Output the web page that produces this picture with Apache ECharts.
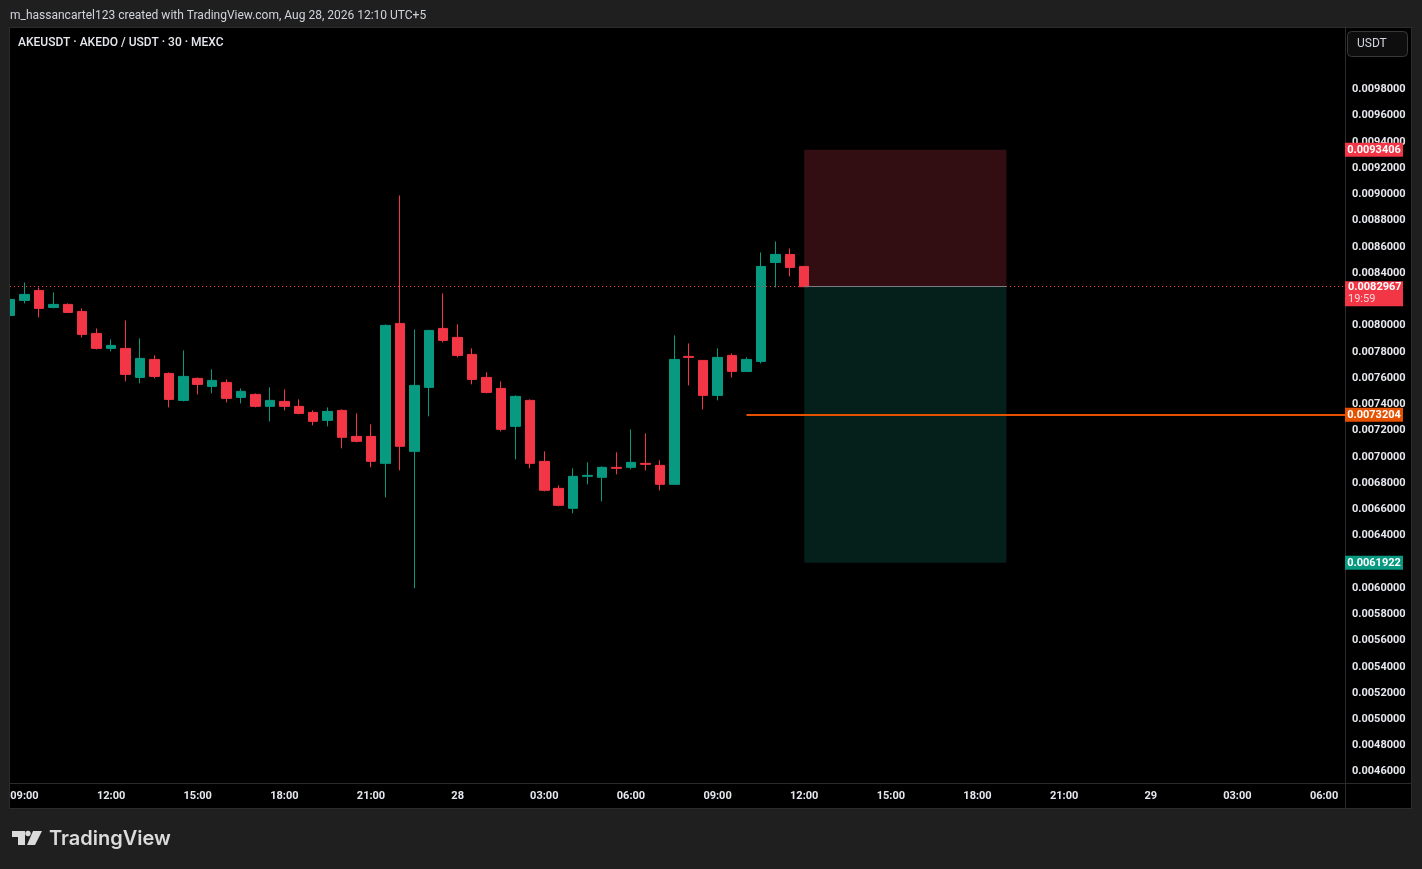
<!DOCTYPE html>
<html>
<head>
<meta charset="utf-8">
<script src="https://cdn.jsdelivr.net/npm/echarts@6/dist/echarts.min.js"></script>
<style>
html,body{margin:0;padding:0;background:#1f1f1f;width:1422px;height:869px;overflow:hidden}
#panel{position:absolute;left:9px;top:27px;width:1403px;height:782px;background:#000;border:1px solid #2b2b2b;box-sizing:border-box}
#hsep{position:absolute;left:10px;top:783px;width:1401px;height:1px;background:#2b2b2b}
#vsep{position:absolute;left:1345px;top:28px;width:1px;height:780px;background:#2b2b2b}
#chart{position:absolute;left:0;top:0;width:1422px;height:869px}
</style>
</head>
<body>
<div id="panel"></div>
<div id="hsep"></div>
<div id="vsep"></div>
<div id="chart"></div>
<script>
// ---- data ----
const times = ['08:30','09:00','09:30','10:00','10:30','11:00','11:30','12:00','12:30','13:00','13:30','14:00','14:30','15:00','15:30','16:00','16:30','17:00','17:30','18:00','18:30','19:00','19:30','20:00','20:30','21:00','21:30','22:00','22:30','23:00','23:30','00:00','00:30','01:00','01:30','02:00','02:30','03:00','03:30','04:00','04:30','05:00','05:30','06:00','06:30','07:00','07:30','08:00','08:30','09:00','09:30','10:00','10:30','11:00','11:30','12:00'];
const opens = [0.0080781,0.0081924,0.0082686,0.0081390,0.0081619,0.0081086,0.0079410,0.0078267,0.0078267,0.0076057,0.0077429,0.0076362,0.0074305,0.0075981,0.0075371,0.0075676,0.0074533,0.0074762,0.0073848,0.0074229,0.0073848,0.0073390,0.0072781,0.0073543,0.0071562,0.0071562,0.0069505,0.0080171,0.0070419,0.0075295,0.0079790,0.0079105,0.0077810,0.0076057,0.0075219,0.0072324,0.0074305,0.0069657,0.0067600,0.0066076,0.0068514,0.0068438,0.0069200,0.0069200,0.0069505,0.0069352,0.0067905,0.0077657,0.0077352,0.0074686,0.0077733,0.0076514,0.0077276,0.0084819,0.0085429,0.0084514];
const closes = [0.0082000,0.0082381,0.0081314,0.0081619,0.0081010,0.0079333,0.0078267,0.0078495,0.0076286,0.0077505,0.0076133,0.0074381,0.0076133,0.0075524,0.0075829,0.0074457,0.0074990,0.0073848,0.0074305,0.0073848,0.0073314,0.0072705,0.0073467,0.0071486,0.0071181,0.0069657,0.0080019,0.0070800,0.0075448,0.0079638,0.0078876,0.0077733,0.0075905,0.0074914,0.0072095,0.0074610,0.0069505,0.0067448,0.0066305,0.0068514,0.0068590,0.0069200,0.0069124,0.0069581,0.0069429,0.0067905,0.0077429,0.0077581,0.0074686,0.0077581,0.0076514,0.0077429,0.0084514,0.0085429,0.0084438,0.0082967];
const lows = [0.0080705,0.0081695,0.0080629,0.0081314,0.0081010,0.0079105,0.0078190,0.0078038,0.0075752,0.0075600,0.0075981,0.0073771,0.0074229,0.0074762,0.0074838,0.0074152,0.0074076,0.0073771,0.0072705,0.0073543,0.0073238,0.0072400,0.0072324,0.0070648,0.0071105,0.0069200,0.0066914,0.0068971,0.0059981,0.0073086,0.0078724,0.0077581,0.0075524,0.0074838,0.0071943,0.0069810,0.0069124,0.0067371,0.0066229,0.0065695,0.0067905,0.0066610,0.0068667,0.0069048,0.0068971,0.0067448,0.0067905,0.0075448,0.0073619,0.0074305,0.0076057,0.0076514,0.0077124,0.0082914,0.0083752,0.0082967];
const highs = [0.0082076,0.0083295,0.0082914,0.0082533,0.0081695,0.0081314,0.0079790,0.0078952,0.0080400,0.0079029,0.0077733,0.0076438,0.0078114,0.0076057,0.0076667,0.0075905,0.0075219,0.0074838,0.0075295,0.0075143,0.0074381,0.0073543,0.0073771,0.0073619,0.0073314,0.0072476,0.0080095,0.0089924,0.0079714,0.0079638,0.0082457,0.0080095,0.0078267,0.0076438,0.0075752,0.0074686,0.0074381,0.0070419,0.0067829,0.0069124,0.0069581,0.0069276,0.0070343,0.0072095,0.0071790,0.0069733,0.0079257,0.0078648,0.0077352,0.0078267,0.0077886,0.0077581,0.0085581,0.0086419,0.0085886,0.0084514];

// x axis: half-hour slots counted from 09:00 (Aug 27)
const firstSlot = -1;
const xMin = -1, xMax = 91.45;
const xTickValues = [0,6,12,18,24,30,36,42,48,54,60,66,72,78,84,90];
const xTickLabels = ['09:00','12:00','15:00','18:00','21:00','28','03:00','06:00','09:00','12:00','15:00','18:00','21:00','29','03:00','06:00'];
const yMin = 0.00451418, yMax = 0.01026875;
const yTickValues = [0.0098,0.0096,0.0094,0.0092,0.0090,0.0088,0.0086,0.0084,0.0080,0.0078,0.0076,0.0074,0.0072,0.0070,0.0068,0.0066,0.0064,0.0060,0.0058,0.0056,0.0054,0.0052,0.0050,0.0048,0.0046];

// position tool + levels
const lastPrice = 0.0082967, countdown = '19:59';
const entryPrice = 0.0082967, stopPrice = 0.0093406, targetPrice = 0.0061922;
const posStart = 54, posEnd = 68;
const levelPrice = 0.0073204, levelStart = 50;

const UP = '#089981', DOWN = '#f23645', ORANGE = '#e65100';
const FONT = 'Roboto, "Liberation Sans", sans-serif';

const candles = times.map((t, i) => [i + firstSlot, opens[i], closes[i], lows[i], highs[i]]);

function tag(price, color, text) {
  return {
    coord: [xMax, price], symbol: 'rect', symbolSize: [58, 14], symbolOffset: [29, 0],
    itemStyle: { color: color },
    label: { show: true, position: 'inside', formatter: text, color: '#ffffff', fontSize: 11, fontWeight: 'bold', fontFamily: FONT }
  };
}

const chart = echarts.init(document.getElementById('chart'));
chart.setOption({
  animation: false,
  backgroundColor: 'transparent',
  grid: { left: 10, right: 77, top: 28, bottom: 86 },
  xAxis: {
    type: 'value', min: xMin, max: xMax,
    axisLine: { show: false }, axisTick: { show: false }, splitLine: { show: false },
    axisLabel: {
      customValues: xTickValues,
      formatter: v => xTickLabels[xTickValues.indexOf(v)],
      color: '#e6e8ee', fontSize: 11, fontWeight: 'bold', fontFamily: FONT, margin: 8
    }
  },
  yAxis: {
    type: 'value', position: 'right', min: yMin, max: yMax, scale: true,
    axisLine: { show: false }, axisTick: { show: false }, splitLine: { show: false },
    axisLabel: {
      customValues: yTickValues,
      formatter: v => v.toFixed(7),
      color: '#e6e8ee', fontSize: 11, fontWeight: 'bold', fontFamily: FONT, margin: 7
    }
  },
  graphic: [
    { type: 'rect', z: 100, shape: { x: 0, y: 28, width: 9, height: 780 }, style: { fill: '#1f1f1f' } },
    { type: 'rect', z: 100, shape: { x: 9, y: 27, width: 1, height: 782 }, style: { fill: '#2b2b2b' } },
    { type: 'text', left: 10, top: 10, style: { text: 'm_hassancartel123 created with TradingView.com, Aug 28, 2026 12:10 UTC+5', fill: '#d1d4dc', fontSize: 12, fontFamily: FONT } },
    { type: 'text', left: 18, top: 37, style: { text: 'AKEUSDT · AKEDO / USDT · 30 · MEXC', fill: '#e6e8ee', fontSize: 12, fontWeight: 500, fontFamily: FONT } },
    { type: 'rect', shape: { x: 1347.5, y: 31.5, width: 60, height: 25, r: 4 }, style: { fill: '#0e0e0e', stroke: '#383838', lineWidth: 1 } },
    { type: 'text', x: 1357, y: 44, style: { text: 'USDT', fill: '#d1d4dc', fontSize: 12, fontFamily: FONT, verticalAlign: 'middle' } },
    { type: 'polygon', shape: { points: [[12,831],[25,831],[25,845],[18,845],[18,837],[12,837]] }, style: { fill: '#dbdbdb' } },
    { type: 'circle', shape: { cx: 28, cy: 833.5, r: 2.7 }, style: { fill: '#dbdbdb' } },
    { type: 'polygon', shape: { points: [[33,831],[42,831],[35,845],[27,845]] }, style: { fill: '#dbdbdb' } },
    { type: 'text', x: 49, y: 839, style: { text: 'TradingView', fill: '#dbdbdb', fontSize: 20, fontWeight: 600, fontFamily: 'Inter, Roboto, sans-serif', verticalAlign: 'middle' } }
  ],
  series: [
    {
      type: 'line', data: [], z: 1, silent: true,
      markArea: {
        silent: true,
        data: [
          [{ coord: [posStart, stopPrice], itemStyle: { color: '#320e12' } }, { coord: [posEnd, entryPrice] }],
          [{ coord: [posStart, entryPrice], itemStyle: { color: '#051f1a' } }, { coord: [posEnd, targetPrice] }]
        ]
      },
      markLine: {
        silent: true, symbol: ['none', 'none'], label: { show: false },
        lineStyle: { color: DOWN, type: [1, 3], width: 1 },
        data: [[{ coord: [xMin, lastPrice] }, { coord: [xMax, lastPrice] }]]
      }
    },
    {
      type: 'candlestick', z: 2, silent: true,
      barWidth: 10,
      itemStyle: { color: UP, color0: DOWN, borderColor: UP, borderColor0: DOWN, borderWidth: 1 },
      data: candles
    },
    {
      type: 'line', data: [], z: 4, silent: true,
      markLine: {
        silent: true, symbol: ['none', 'none'], label: { show: false },
        data: [
          [{ coord: [posStart, entryPrice], lineStyle: { color: '#787b86', width: 1, type: 'solid' } }, { coord: [posEnd, entryPrice] }],
          [{ coord: [levelStart, levelPrice], lineStyle: { color: ORANGE, width: 2, type: 'solid' } }, { coord: [xMax, levelPrice] }]
        ]
      },
      markPoint: {
        silent: true,
        data: [
          tag(stopPrice, DOWN, stopPrice.toFixed(7)),
          tag(levelPrice, ORANGE, levelPrice.toFixed(7)),
          tag(targetPrice, UP, targetPrice.toFixed(7)),
          {
            coord: [xMax, lastPrice], symbol: 'rect', symbolSize: [58, 25], symbolOffset: [29, 7],
            itemStyle: { color: DOWN },
            label: {
              show: true, position: 'inside',
              formatter: '{a|' + lastPrice.toFixed(7) + '}\n{b|' + countdown + '}',
              rich: {
                a: { color: '#ffffff', fontSize: 11, fontWeight: 'bold', fontFamily: FONT, width: 52, align: 'left', lineHeight: 12 },
                b: { color: '#f8d7da', fontSize: 11, fontFamily: FONT, width: 52, align: 'left', lineHeight: 12 }
              }
            }
          }
        ]
      }
    }
  ]
});
</script>
</body>
</html>
